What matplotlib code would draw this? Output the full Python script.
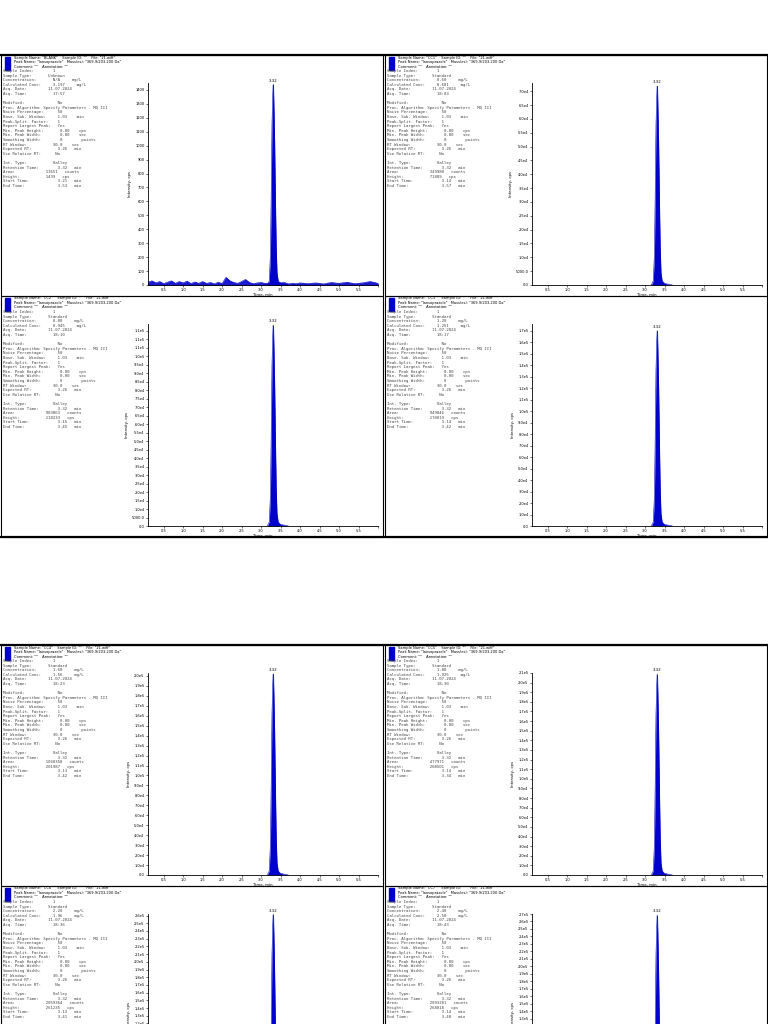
import matplotlib
matplotlib.use("Agg")
import matplotlib.pyplot as plt
import numpy as np
from matplotlib.ticker import FuncFormatter, MultipleLocator

W, H = 768, 1024

# one entry per panel
SAMPLE_NAME = ["BLANK", "CC1", "CC2", "CC3", "CC4", "CC5", "CC6", "CC7"]
SAMPLE_TYPE = ["Unknown"] + ["Standard"] * 7
CONC = ["N/A", "0.60", "0.80", "1.20", "1.60", "1.80", "2.20", "2.40"]
CALC = ["3.197", "0.681", "0.945", "1.251", "1.56", "1.925", "1.96", "2.50"]
ACQ_TIME = ["17:57", "18:03", "18:10", "18:17", "18:23", "18:30", "18:36", "18:43"]
AREA = ["13651", "349980", "983063", "949846", "1060358", "477971", "2059364", "2093281"]
HEIGHT = [1439, 71889, 118233, 170019, 201987, 208501, 261235, 268018]
START = ["3.21", "3.14", "3.15", "3.14", "3.13", "3.14", "3.13", "3.14"]
END = ["3.53", "3.57", "3.45", "3.42", "3.42", "3.34", "3.41", "3.40"]
YMAX = [1450, 73000, 119000, 176000, 203000, 210000, 262000, 270000]
YSTEP = [100, 5000, 5000, 10000, 10000, 10000, 10000, 10000]

# peak shape (relative to height)
PEAK_T = [3.16, 3.21, 3.24, 3.26, 3.28, 3.30, 3.31, 3.32, 3.33, 3.35, 3.37, 3.39, 3.41, 3.44, 3.50, 3.70]
PEAK_REL = [0.0, 0.02, 0.15, 0.45, 0.80, 0.95, 1.0, 0.99, 0.90, 0.70, 0.42, 0.18, 0.06, 0.02, 0.008, 0.0]

# blank baseline noise (cps)
NOISE_T = [0.10, 0.2, 0.3, 0.4, 0.5, 0.6, 0.7, 0.8, 0.9, 1.0, 1.1, 1.2, 1.3, 1.4, 1.5, 1.6, 1.7, 1.8,
           1.9, 2.0, 2.1, 2.2, 2.3, 2.4, 2.5, 2.6, 2.7, 2.8, 2.9, 3.0, 3.1, 3.6, 3.7, 3.8, 3.9, 4.0,
           4.2, 4.4, 4.6, 4.8, 5.0, 5.2, 5.4, 5.6, 5.8, 6.0]
NOISE_V = [20, 30, 15, 25, 10, 20, 30, 12, 25, 15, 28, 10, 22, 12, 25, 12, 18, 8, 20, 10, 55, 30,
           18, 12, 25, 40, 18, 10, 15, 18, 12, 18, 8, 12, 10, 15, 10, 15, 8, 18, 12, 20, 10, 15, 25, 12]

PANELS = [(0, 55), (384, 55), (0, 296), (384, 296), (0, 645), (384, 645), (0, 886), (384, 886)]
BLUE = "#0000cc"


def yfmt(v, _):
    if v == 0:
        return "0.0"
    if v < 10000:
        return f"{v:.1f}"
    e = int(np.floor(np.log10(v)))
    return f"{v / 10 ** e:.1f}e{e}"


def text_block(i):
    return [
        "Sample Index:        1",
        f"Sample Type:       {SAMPLE_TYPE[i]}",
        f"Concentration:       {CONC[i]}     mg/L",
        f"Calculated Conc:     {CALC[i]}     mg/L",
        "Acq. Date:         11-07-2024",
        f"Acq. Time:           {ACQ_TIME[i]}",
        "",
        "Modified:              No",
        "Proc. Algorithm: Specify Parameters - MQ III",
        "Noise Percentage:      50",
        "Base. Sub. Window:     1.03    min",
        "Peak-Split. Factor:    1",
        "Report Largest Peak:   Yes",
        "Min. Peak Height:       0.00    cps",
        "Min. Peak Width:        0.00    sec",
        "Smoothing Width:        0        points",
        "RT Window:           30.0    sec",
        "Expected RT:           3.26   min",
        "Use Relative RT:      No",
        "",
        "Int. Type:           Valley",
        "Retention Time:        3.32   min",
        f"Area:             {AREA[i]}   counts",
        f"Height:           {HEIGHT[i]}   cps",
        f"Start Time:            {START[i]}   min",
        f"End Time:              {END[i]}   min",
    ]


fig = plt.figure(figsize=(W / 100, H / 100), dpi=100)
fig.patch.set_facecolor("white")


def fx(px):
    return px / W


def fy(py):
    return 1 - py / H


for y in (55, 537, 645):
    fig.add_artist(plt.Line2D([0, 1], [fy(y), fy(y)], color="black", lw=1.6))

for i, (ox, oy) in enumerate(PANELS):
    # panel frame
    fig.add_artist(plt.Rectangle((fx(ox + 1), fy(oy + 241)), fx(382), 241 / H, fill=False,
                                 edgecolor="black", lw=0.8))
    fig.add_artist(plt.Rectangle((fx(ox + 5), fy(oy + 15)), fx(5), 13 / H, color=BLUE))
    fig.text(fx(ox + 14), fy(oy + 2.5), f"Sample Name: \"{SAMPLE_NAME[i]}\"    Sample ID: \"\"    File: \"21.wiff\"",
             fontsize=2.6, va="center")
    fig.text(fx(ox + 14), fy(oy + 7), "Peak Name: \"lansoprazole\"   Mass(es): \"369.9/203.200 Da\"",
             fontsize=2.6, va="center")
    fig.text(fx(ox + 14), fy(oy + 11.5), "Comment: \"\"    Annotation: \"\"", fontsize=2.6, va="center")
    for k, line in enumerate(text_block(i)):
        fig.text(fx(ox + 3), fy(oy + 16 + k * 4.6), line, fontsize=2.9, family="DejaVu Sans Mono",
                 color="#444444", va="center")

    ax = fig.add_axes([fx(ox + 148), fy(oy + 230), fx(230), 202 / H])
    if i == 0:
        ax.fill_between(NOISE_T, NOISE_V, color=BLUE, lw=0.4, alpha=0.9)
        ax.plot(NOISE_T, NOISE_V, color=BLUE, lw=0.4)
    pk = [r * HEIGHT[i] for r in PEAK_REL]
    ax.fill_between(PEAK_T, pk, color=BLUE, lw=0)
    ax.plot(PEAK_T, pk, color=BLUE, lw=0.4)
    ax.text(3.31, HEIGHT[i] * 1.01, "3.32", fontsize=2.8, ha="center", va="bottom")
    ax.set_xlim(0.1, 6.0)
    ax.set_ylim(0, YMAX[i])
    ax.xaxis.set_major_locator(MultipleLocator(0.5))
    ax.xaxis.set_major_formatter(FuncFormatter(lambda v, _: f"{v:.1f}" if 0.4 < v < 5.6 else ""))
    ax.yaxis.set_major_locator(MultipleLocator(YSTEP[i]))
    if i == 0:
        ax.yaxis.set_major_formatter(FuncFormatter(lambda v, _: f"{v:.0f}" if v < YMAX[0] else ""))
    else:
        ax.yaxis.set_major_formatter(FuncFormatter(yfmt))
    ax.tick_params(labelsize=2.6, length=1.5, width=0.4, pad=1)
    for s in ("top", "right"):
        ax.spines[s].set_visible(False)
    for s in ("left", "bottom"):
        ax.spines[s].set_linewidth(0.6)
    ax.set_xlabel("Time, min", fontsize=2.8, labelpad=0.5)
    ax.set_ylabel("Intensity, cps", fontsize=2.8, labelpad=2)

fig.savefig("out.png", dpi=100)
